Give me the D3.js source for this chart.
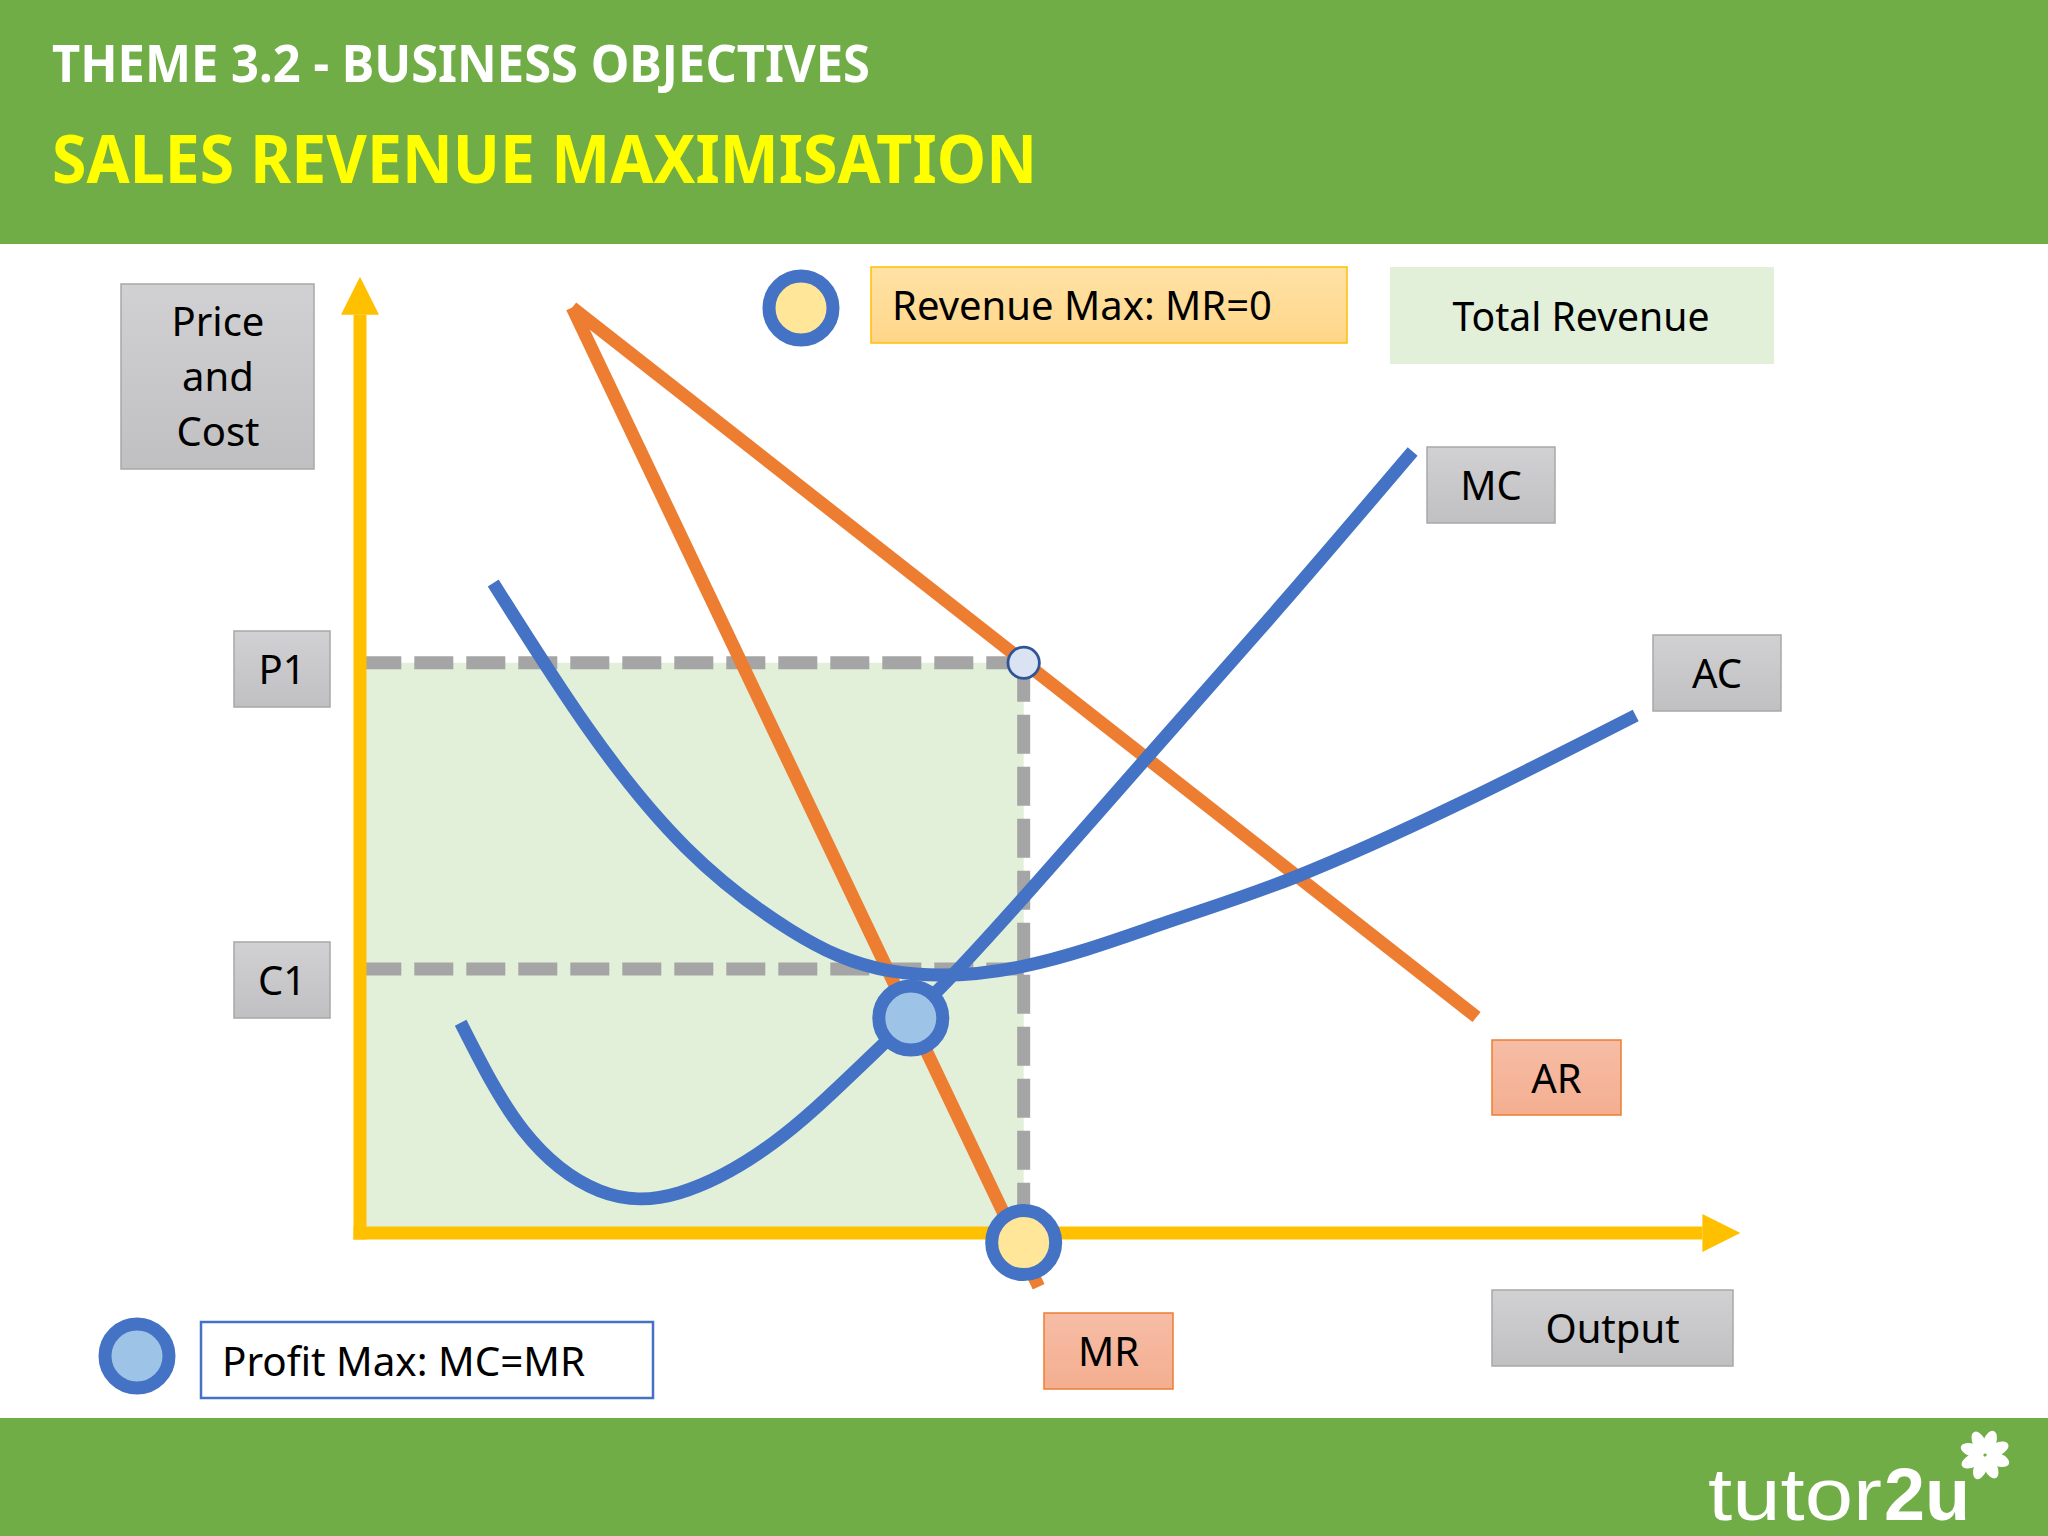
<!DOCTYPE html>
<html>
<head>
<meta charset="utf-8">
<script src="https://cdn.jsdelivr.net/npm/d3@7"></script>
<style>
  html, body { margin: 0; padding: 0; background: #fff; }
  svg { display: block; }
  text { font-family: "Noto Sans", "Open Sans", sans-serif; fill: #000; }
</style>
</head>
<body>
<div id="chart"></div>
<script>
// values, in axis units (output 0-100, price/cost 0-100)
const arCurve = [[15.6, 96.4], [82.1, 22.5]];
const mrCurve = [[15.6, 96.4], [49.9, -5.6]];
const mcCurve = [[7.4, 21.9], [12.0, 10.7], [17.6, 4.4], [23.5, 4.2], [30.4, 9.4], [36.8, 17.4], [43.4, 26.6],
  [50.7, 38.0], [57.9, 49.6], [67.6, 65.2], [77.4, 81.4]];
const acCurve = [[9.8, 67.7], [16.7, 52.7], [24.0, 40.1], [31.6, 31.6], [39.0, 27.3], [48.8, 27.8], [59.4, 32.4],
  [68.8, 37.1], [81.1, 44.9], [93.8, 53.9]];
const q1 = 48.8;
const p1 = 59.4;
const c1 = 27.5;
const yAxisTop = 99.6;
const xAxisEnd = 101.5;
const profitMax = [40.5, 22.4];
const revenueMax = [48.8, -1.0];

const titleText = "THEME 3.2 - BUSINESS OBJECTIVES";
const subtitleText = "SALES REVENUE MAXIMISATION";
const axisLabelLines = ["Price", "and", "Cost"];
const greyLabels = ["P1", "C1", "MC", "AC", "Output"];
const orangeLabels = ["AR", "MR"];
const legendLabels = ["Revenue Max: MR=0", "Total Revenue", "Profit Max: MC=MR"];

const WIDTH = 2048, HEIGHT = 1536;
const GREEN = "#70ad47", BLUE = "#4472c4", ORANGE = "#ed7d31", GOLD = "#ffc000", DASH = "#a5a5a5";

const svg = d3.select("#chart").append("svg").attr("width", WIDTH).attr("height", HEIGHT);

const x = d3.scaleLinear().domain([0, 100]).range([360, 1720]);
const y = d3.scaleLinear().domain([0, 100]).range([1233, 273]);

// gradients for the text boxes
const defs = svg.append("defs");
function addGradient(id, top, bottom) {
  const g = defs.append("linearGradient").attr("id", id).attr("x1", 0).attr("y1", 0).attr("x2", 0).attr("y2", 1);
  g.append("stop").attr("offset", "0%").attr("stop-color", top);
  g.append("stop").attr("offset", "100%").attr("stop-color", bottom);
}
addGradient("greyFill", "#d1d0d2", "#c0bfc1");
addGradient("orangeFill", "#f6bda6", "#f4ae90");
addGradient("goldFill", "#ffe2a6", "#ffd688");

// header and footer bands
svg.append("rect").attr("width", WIDTH).attr("height", 244).attr("fill", GREEN);
svg.append("rect").attr("y", 1418).attr("width", WIDTH).attr("height", 118).attr("fill", GREEN);

svg.append("text").text(titleText)
  .attr("x", 52).attr("y", 82)
  .attr("font-size", 52).attr("font-weight", 700)
  .attr("textLength", 818).attr("lengthAdjust", "spacingAndGlyphs")
  .style("fill", "#fff");
svg.append("text").text(subtitleText)
  .attr("x", 52).attr("y", 183)
  .attr("font-size", 67).attr("font-weight", 700)
  .attr("textLength", 985).attr("lengthAdjust", "spacingAndGlyphs")
  .style("fill", "#ffff00");

// total revenue area
svg.append("rect")
  .attr("x", x(0)).attr("y", y(p1))
  .attr("width", x(q1) - x(0)).attr("height", y(0) - y(p1))
  .attr("fill", "#e2efd9");

// dashed guides
const guides = [
  [[0.17, p1], [q1 - 0.4, p1]],
  [[0.17, c1], [q1, c1]],
  [[q1, p1], [q1, 0]],
];
const line = d3.line().x((d) => x(d[0])).y((d) => y(d[1]));
svg.selectAll(".guide").data(guides).enter().append("path")
  .attr("class", "guide")
  .attr("d", line)
  .attr("fill", "none")
  .attr("stroke", DASH)
  .attr("stroke-width", 13)
  .attr("stroke-dasharray", "39 13");

// curves
const smooth = d3.line().x((d) => x(d[0])).y((d) => y(d[1])).curve(d3.curveNatural);
svg.selectAll(".rev").data([arCurve, mrCurve]).enter().append("path")
  .attr("class", "rev")
  .attr("d", line)
  .attr("fill", "none")
  .attr("stroke", ORANGE)
  .attr("stroke-width", 13);
svg.selectAll(".cost").data([mcCurve, acCurve]).enter().append("path")
  .attr("class", "cost")
  .attr("d", smooth)
  .attr("fill", "none")
  .attr("stroke", BLUE)
  .attr("stroke-width", 13);

// axes with arrow heads
const HEAD = 38;
svg.append("line")
  .attr("x1", x(0)).attr("y1", y(0) + 6.5).attr("x2", x(0)).attr("y2", y(yAxisTop) + HEAD)
  .attr("stroke", GOLD).attr("stroke-width", 13);
svg.append("line")
  .attr("x1", x(0) - 6.5).attr("y1", y(0)).attr("x2", x(xAxisEnd) - HEAD).attr("y2", y(0))
  .attr("stroke", GOLD).attr("stroke-width", 13);
svg.append("path")
  .attr("d", d3.line()([[x(0), y(yAxisTop)], [x(0) + 19, y(yAxisTop) + HEAD], [x(0) - 19, y(yAxisTop) + HEAD]]) + "Z")
  .attr("fill", GOLD);
svg.append("path")
  .attr("d", d3.line()([[x(xAxisEnd), y(0)], [x(xAxisEnd) - HEAD, y(0) - 19], [x(xAxisEnd) - HEAD, y(0) + 19]]) + "Z")
  .attr("fill", GOLD);

// marker circles
function ring(cx, cy, fill) {
  svg.append("circle").attr("cx", cx).attr("cy", cy).attr("r", 32)
    .attr("fill", fill).attr("stroke", BLUE).attr("stroke-width", 13);
}
svg.append("circle")
  .attr("cx", x(q1)).attr("cy", y(p1)).attr("r", 15.7)
  .attr("fill", "#dae3f3").attr("stroke", "#2f5597").attr("stroke-width", 2.8);
ring(x(profitMax[0]), y(profitMax[1]), "#9dc3e6");
ring(x(revenueMax[0]), y(revenueMax[1]), "#ffe699");
ring(801, 308, "#ffe699");
ring(137, 1356, "#9dc3e6");

// text boxes
function box(left, top, right, bottom, fill, stroke, strokeWidth) {
  svg.append("rect")
    .attr("x", left).attr("y", top)
    .attr("width", right - left).attr("height", bottom - top)
    .attr("fill", fill).attr("stroke", stroke).attr("stroke-width", strokeWidth);
}
function label(str, px, py, anchor, length) {
  const t = svg.append("text").text(str)
    .attr("x", px).attr("y", py)
    .attr("font-size", 40)
    .attr("text-anchor", anchor || "middle");
  if (length) t.attr("textLength", length).attr("lengthAdjust", "spacingAndGlyphs");
}

box(121, 284, 314, 469, "url(#greyFill)", "#a8a8a8", 1.5);
axisLabelLines.forEach((d, i) => label(d, 218, 336 + i * 55));

const greyBoxes = [[234, 631, 330, 707], [234, 942, 330, 1018], [1427, 447, 1555, 523], [1653, 635, 1781, 711], [1492, 1290, 1733, 1366]];
greyLabels.forEach((d, i) => {
  const b = greyBoxes[i];
  box(b[0], b[1], b[2], b[3], "url(#greyFill)", "#a8a8a8", 1.5);
  label(d, (b[0] + b[2]) / 2, (b[1] + b[3]) / 2 + 15);
});

const orangeBoxes = [[1492, 1040, 1621, 1115], [1044, 1313, 1173, 1389]];
orangeLabels.forEach((d, i) => {
  const b = orangeBoxes[i];
  box(b[0], b[1], b[2], b[3], "url(#orangeFill)", ORANGE, 1.5);
  label(d, (b[0] + b[2]) / 2, (b[1] + b[3]) / 2 + 15);
});

box(871, 267, 1347, 343, "url(#goldFill)", GOLD, 1.5);
label(legendLabels[0], 892, 320, "start", 380);
box(1390, 267, 1774, 364, "#e2efd9", "none", 0);
label(legendLabels[1], 1581, 331, "middle", 257);
box(201, 1322, 653, 1398, "#fff", BLUE, 2.5);
label(legendLabels[2], 222, 1376, "start", 363);

// logo
const logo = svg.append("g");
logo.append("text").text("tutor")
  .attr("x", 1708).attr("y", 1520)
  .attr("font-size", 74)
  .attr("textLength", 174).attr("lengthAdjust", "spacingAndGlyphs")
  .style("font-family", "'Liberation Sans', sans-serif")
  .style("fill", "#fff");
logo.append("text").text("2u")
  .attr("x", 1884).attr("y", 1520)
  .attr("font-size", 74).attr("font-weight", 700)
  .attr("textLength", 86).attr("lengthAdjust", "spacingAndGlyphs")
  .style("font-family", "'Liberation Sans', sans-serif")
  .style("fill", "#fff");
logo.selectAll("ellipse").data(d3.range(8)).enter().append("ellipse")
  .attr("cx", 0).attr("cy", -13.5).attr("rx", 6.5).attr("ry", 12)
  .attr("transform", (d) => `translate(1985,1455) rotate(${d * 45 + 20})`)
  .attr("fill", "#fff");
</script>
</body>
</html>
